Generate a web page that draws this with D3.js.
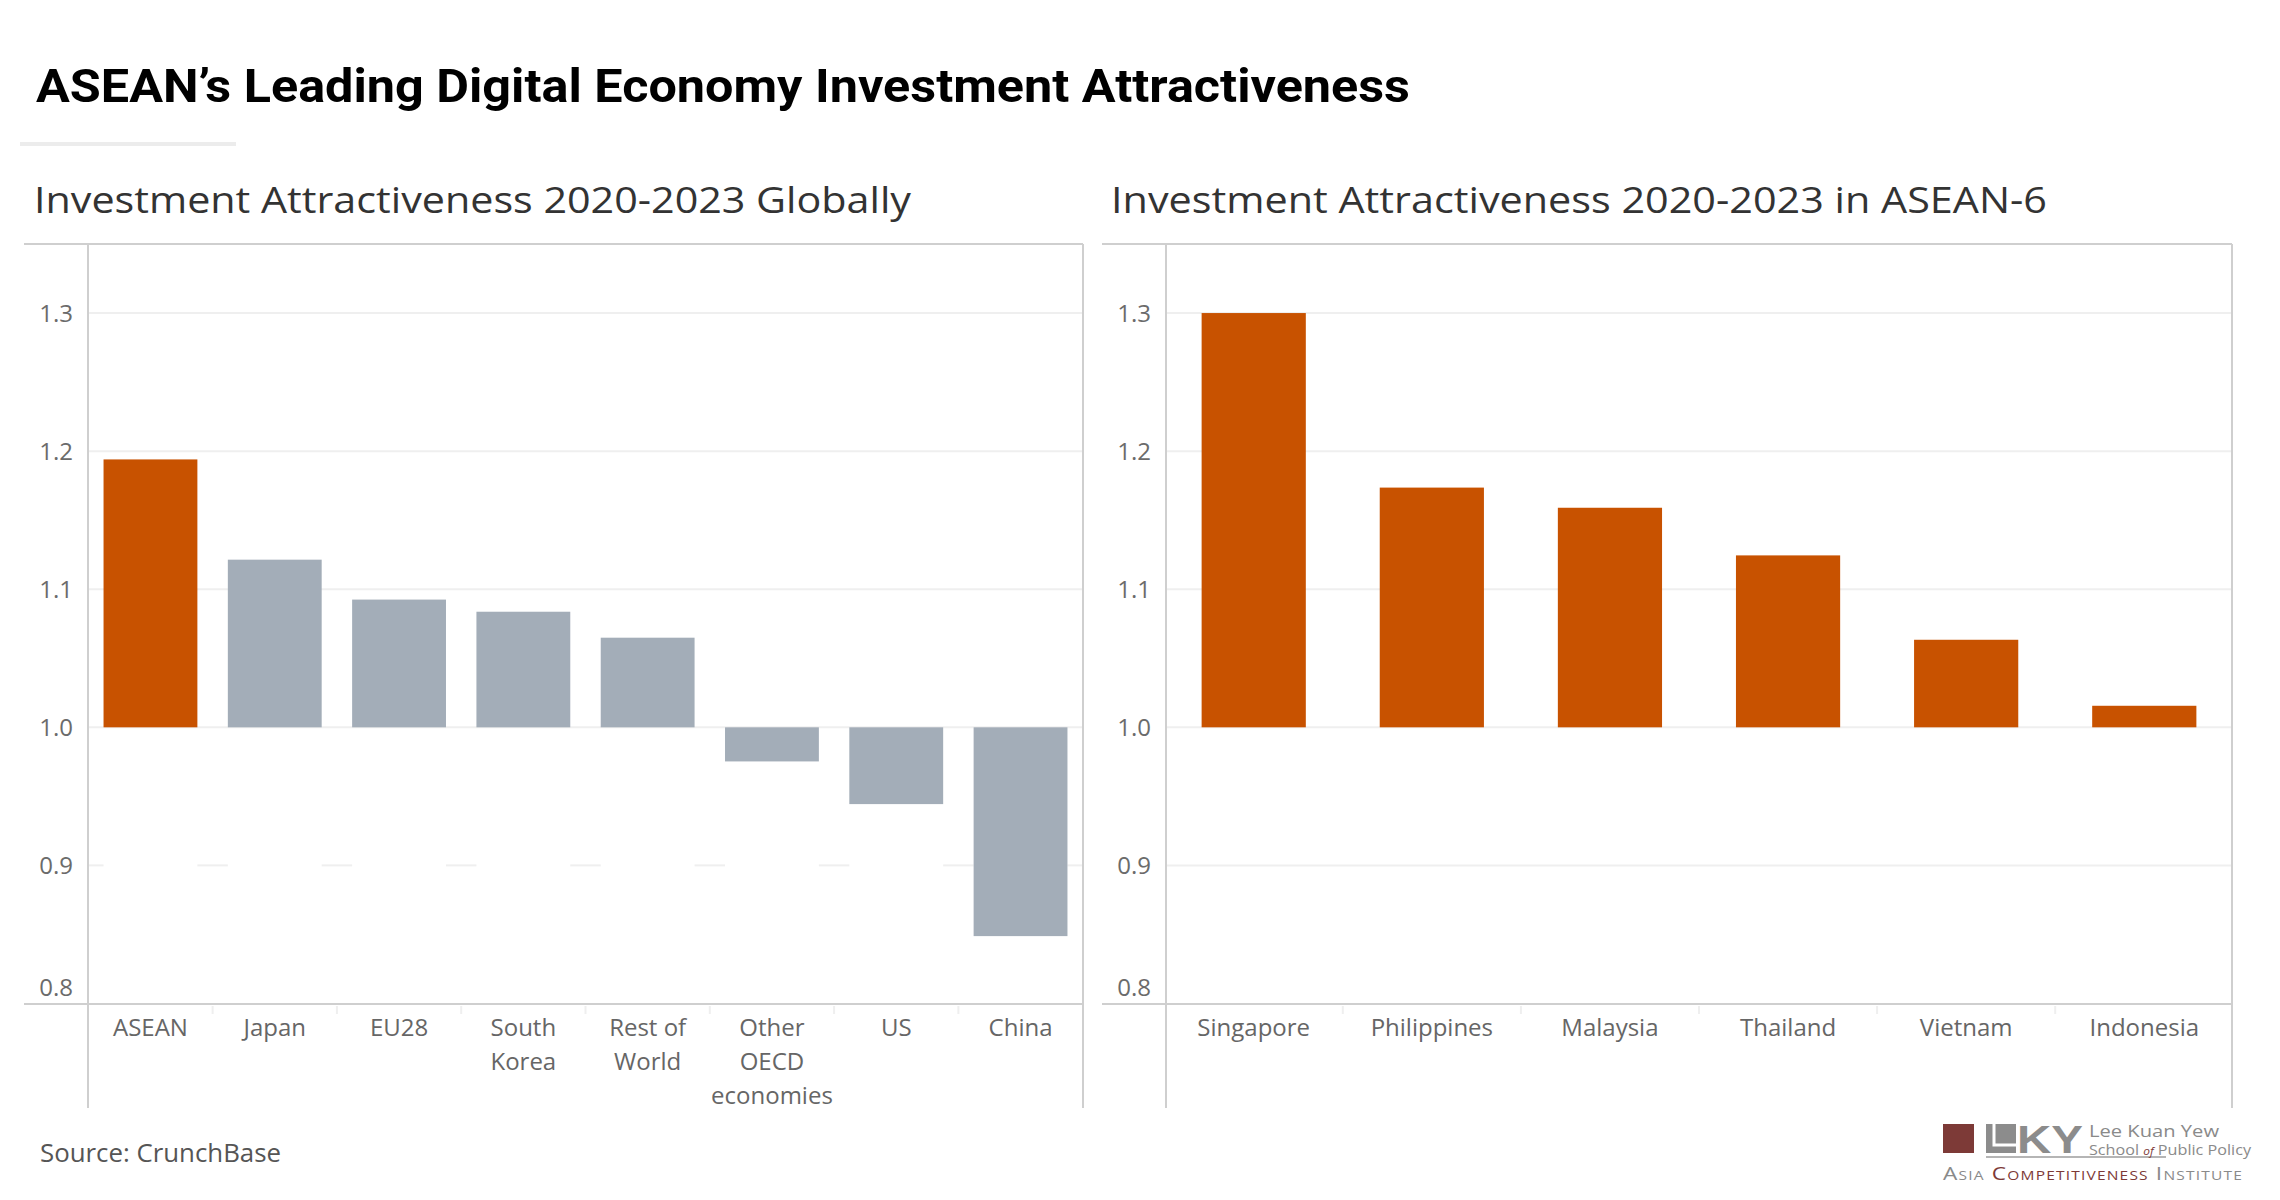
<!DOCTYPE html>
<html>
<head>
<meta charset="utf-8">
<script src="https://cdn.jsdelivr.net/npm/d3@7"></script>
<style>
  body { margin: 0; background: #fff; }
  svg text { font-family: "Open Sans", "Noto Sans", sans-serif; }
</style>
</head>
<body>
<div id="chart"></div>
<script>
// Data
const globalCategories = ['ASEAN', 'Japan', 'EU28', 'South\nKorea', 'Rest of\nWorld', 'Other\nOECD\neconomies', 'US', 'China'];
const globalValues = [1.194, 1.1214, 1.0925, 1.0837, 1.0649, 0.9753, 0.9444, 0.8488];
const globalHighlight = ['ASEAN'];

const aseanCategories = ['Singapore', 'Philippines', 'Malaysia', 'Thailand', 'Vietnam', 'Indonesia'];
const aseanValues = [1.300, 1.1736, 1.159, 1.1245, 1.0634, 1.0156];

const yTicks = [0.8, 0.9, 1.0, 1.1, 1.2, 1.3];
const yDomain = [0.8, 1.35];
const baseline = 1.0;

const orange = '#c85200';
const grey = '#a3adb8';
const borderColor = '#cfcfcf';
const gridColor = '#efefef';

const width = 2280;
const height = 1200;

const svg = d3.select('#chart')
  .append('svg')
    .attr('width', width)
    .attr('height', height)
    .attr('viewBox', `0 0 ${width} ${height}`);

// Main title
svg.append('text')
    .attr('x', 36)
    .attr('y', 102)
    .attr('textLength', 1374)
    .attr('lengthAdjust', 'spacingAndGlyphs')
    .style('font-family', 'Roboto, "Noto Sans", sans-serif')
    .style('font-weight', 700)
    .style('font-size', '47px')
    .attr('fill', '#000')
    .text('ASEAN\u2019s Leading Digital Economy Investment Attractiveness');

svg.append('rect')
    .attr('x', 20)
    .attr('y', 142)
    .attr('width', 216)
    .attr('height', 4)
    .attr('fill', '#ececec');

const y = d3.scaleLinear()
  .domain(yDomain)
  .range([1003.5, 244]);

const drawPanel = (cfg) => {
  const g = svg.append('g');
  const x = d3.scaleBand()
    .domain(cfg.categories)
    .range([cfg.left, cfg.right])
    .paddingInner(cfg.padInner)
    .paddingOuter(cfg.padOuter);

  // panel title
  g.append('text')
      .attr('x', cfg.titleX)
      .attr('y', 213)
      .attr('fill', '#333')
      .attr('textLength', cfg.titleWidth)
      .attr('lengthAdjust', 'spacingAndGlyphs')
      .style('font-size', '37px')
      .text(cfg.title);

  // gridlines
  const grid = g.append('g').attr('stroke', gridColor).attr('stroke-width', 2);
  yTicks.filter(t => t > yDomain[0]).forEach(t => {
    if (cfg.brokenGrid && t === 0.9) {
      // Tableau leaves this line hidden under every bar band
      const edges = [cfg.left];
      cfg.categories.forEach(c => { edges.push(x(c), x(c) + x.bandwidth()); });
      edges.push(cfg.right);
      for (let i = 0; i < edges.length; i += 2) {
        grid.append('line')
            .attr('x1', edges[i]).attr('x2', edges[i + 1])
            .attr('y1', y(t)).attr('y2', y(t));
      }
    } else {
      grid.append('line')
          .attr('x1', cfg.left).attr('x2', cfg.right)
          .attr('y1', y(t)).attr('y2', y(t));
    }
  });

  // bars
  g.append('g')
    .selectAll('rect')
    .data(cfg.categories.map((c, i) => ({ c, v: cfg.values[i] })))
    .join('rect')
      .attr('x', d => x(d.c))
      .attr('width', x.bandwidth())
      .attr('y', d => y(Math.max(d.v, baseline)))
      .attr('height', d => Math.abs(y(d.v) - y(baseline)))
      .attr('fill', d => cfg.colorOf(d.c));

  // y axis labels
  const yAxis = g.append('g')
      .attr('transform', `translate(${cfg.left},0)`)
      .call(d3.axisLeft(y).tickValues(yTicks).tickSize(0).tickPadding(15).tickFormat(d3.format('.1f')));
  yAxis.select('.domain').remove();
  yAxis.selectAll('text')
      .attr('fill', '#6b6b6b')
      .style('font-size', '24px')
      .style('font-family', '"Open Sans", sans-serif')
      .attr('dy', d => d === 0.8 ? '-0.34em' : '0.34em');

  // x label separators
  const sep = g.append('g').attr('stroke', gridColor).attr('stroke-width', 2);
  cfg.categories.slice(1).forEach(c => {
    const sx = x(c) - x.step() * x.paddingInner() / 2;
    sep.append('line')
        .attr('x1', sx).attr('x2', sx)
        .attr('y1', 1006).attr('y2', 1014);
  });

  // x labels
  g.append('g')
    .selectAll('text')
    .data(cfg.categories)
    .join('text')
      .attr('x', d => x(d) + x.bandwidth() / 2)
      .attr('y', 1036)
      .attr('text-anchor', 'middle')
      .attr('fill', '#666')
      .style('font-size', '24px')
      .each(function (d) {
        d.split('\n').forEach((line, i) => {
          d3.select(this).append('tspan')
              .attr('x', x(d) + x.bandwidth() / 2)
              .attr('dy', i === 0 ? 0 : 34)
              .text(line);
        });
      });

  // frame
  const frame = g.append('g').attr('stroke', borderColor).attr('stroke-width', 2);
  frame.append('line').attr('x1', cfg.frameLeft).attr('x2', cfg.right).attr('y1', 244).attr('y2', 244);
  frame.append('line').attr('x1', cfg.frameLeft).attr('x2', cfg.right).attr('y1', 1004).attr('y2', 1004);
  frame.append('line').attr('x1', cfg.left).attr('x2', cfg.left).attr('y1', 244).attr('y2', 1108);
  frame.append('line').attr('x1', cfg.right).attr('x2', cfg.right).attr('y1', 244).attr('y2', 1108);
};

drawPanel({
  categories: globalCategories,
  values: globalValues,
  title: 'Investment Attractiveness 2020-2023 Globally',
  titleX: 34,
  titleWidth: 877,
  frameLeft: 24,
  left: 88,
  right: 1083,
  padInner: 0.245,
  padOuter: 0.125,
  brokenGrid: true,
  colorOf: c => globalHighlight.includes(c) ? orange : grey
});

drawPanel({
  categories: aseanCategories,
  values: aseanValues,
  title: 'Investment Attractiveness 2020-2023 in ASEAN-6',
  titleX: 1111,
  titleWidth: 936,
  frameLeft: 1102,
  left: 1166,
  right: 2232,
  padInner: 0.415,
  padOuter: 0.2,
  brokenGrid: false,
  colorOf: () => orange
});

// Source note
svg.append('text')
    .attr('x', 40)
    .attr('y', 1162)
    .attr('fill', '#555')
    .attr('textLength', 241)
    .attr('lengthAdjust', 'spacingAndGlyphs')
    .style('font-size', '25px')
    .text('Source: CrunchBase');

// Logo (approximation)
const logo = svg.append('g');
logo.append('rect')
    .attr('x', 1943).attr('y', 1124).attr('width', 31).attr('height', 29)
    .attr('fill', '#7d3a37');
logo.append('rect')
    .attr('x', 1986).attr('y', 1124).attr('width', 30).attr('height', 29)
    .attr('fill', '#8c8c8c');
logo.append('path')
    .attr('d', 'M1994,1124 L1994,1145 L2016,1145')
    .attr('fill', 'none')
    .attr('stroke', '#fff')
    .attr('stroke-width', 3);
logo.append('text')
    .attr('x', 2017).attr('y', 1153)
    .attr('textLength', 66)
    .attr('lengthAdjust', 'spacingAndGlyphs')
    .style('font-family', '"Liberation Sans", sans-serif')
    .style('font-weight', 700)
    .style('font-size', '39px')
    .attr('fill', '#8c8c8c')
    .text('KY');
logo.append('line')
    .attr('x1', 1986).attr('x2', 2166).attr('y1', 1157).attr('y2', 1157)
    .attr('stroke', '#b5b5b5').attr('stroke-width', 2);
logo.append('text')
    .attr('x', 2089).attr('y', 1137)
    .attr('textLength', 130)
    .attr('lengthAdjust', 'spacingAndGlyphs')
    .attr('fill', '#8a8a8a')
    .style('font-size', '17px')
    .text('Lee Kuan Yew');
const school = logo.append('text')
    .attr('x', 2089).attr('y', 1155)
    .attr('textLength', 162)
    .attr('lengthAdjust', 'spacingAndGlyphs')
    .attr('fill', '#8a8a8a')
    .style('font-size', '15px');
school.append('tspan').text('School ');
school.append('tspan').attr('fill', '#7d3a37').style('font-style', 'italic').style('font-size', '11px').text('of');
school.append('tspan').text(' Public Policy');
logo.append('text')
    .attr('x', 1943).attr('y', 1180)
    .attr('textLength', 300)
    .attr('lengthAdjust', 'spacingAndGlyphs')
    .style('font-size', '19px')
    .style('font-variant', 'small-caps')
    .style('letter-spacing', '1px')
    .call(t => {
      t.append('tspan').attr('fill', '#8a8a8a').text('Asia ');
      t.append('tspan').attr('fill', '#7d3a37').text('Competitiveness ');
      t.append('tspan').attr('fill', '#8a8a8a').text('Institute');
    });
</script>
</body>
</html>
